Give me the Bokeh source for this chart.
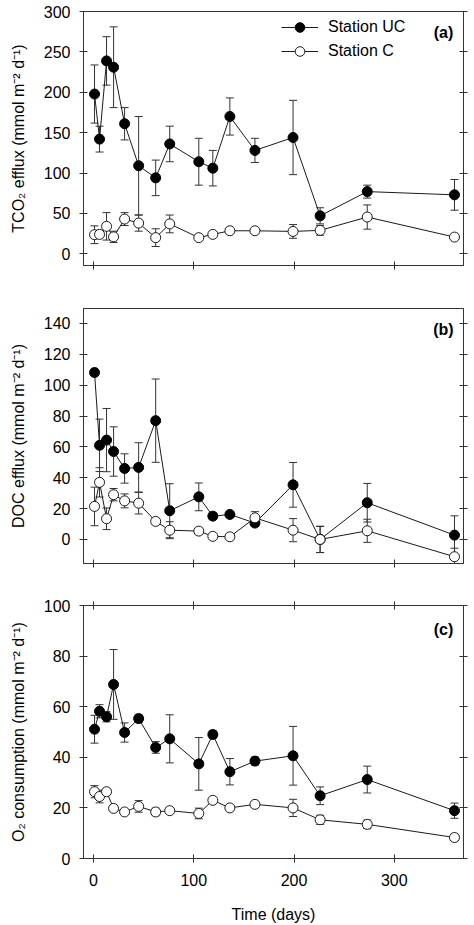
from bokeh.plotting import figure
from bokeh.models import (Range1d, LinearAxis, Whisker, ColumnDataSource, Legend,
                          LegendItem, Label, FixedTicker, TeeHead)
from bokeh.layouts import column
from bokeh.embed import file_html
from bokeh.resources import INLINE

# ---- data ----
days = [1, 6, 13, 20, 31, 45, 62, 76, 105, 119, 136, 161, 199, 226, 273, 360]

tco2_uc = [197.8, 142, 238.8, 231, 161, 109, 94, 136, 114, 106, 170, 128, 144, 47, 77, 73]
tco2_uc_err = [36, 16, 30, 50, 20, 61, 22, 22, 29, 22, 23, 15, 46, 10, 8, 19]
tco2_c = [23.6, 24, 34, 21, 43, 38, 20, 37, 20, 24, 28.5, 28.5, 27.7, 29, 45.5, 20.7]
tco2_c_err = [11, 2, 17, 7, 8, 10, 11, 11, 1, 1, 1, 1, 8.5, 6, 15, 1]

doc_uc = [108.2, 61, 64.4, 57, 46, 46.7, 77, 18.6, 27.6, 15.1, 16.2, 10.6, 35.4, 0, 23.8, 2.8]
doc_uc_err = [2, 17, 20.5, 16, 9.5, 16, 27, 17.5, 9, 2, 2, 2, 14.5, 8.5, 12.5, 12.5]
doc_c = [21.4, 37, 13.4, 29, 25, 23.5, 11.7, 6, 5.4, 2, 1.7, 14, 6, 0, 5.6, -11.2]
doc_c_err = [12.5, 9.5, 7, 4, 4.5, 7, 2, 5.5, 2, 1, 1, 4, 7.5, 8.5, 7.5, 5.5]

o2_uc = [51.1, 58.2, 56, 68.8, 49.8, 55.3, 43.9, 47.3, 37.4, 49, 34.3, 38.5, 40.6, 24.8, 31.2, 18.9]
o2_uc_err = [5.5, 2.6, 2, 13.8, 3.8, 1.5, 2.3, 9.5, 10.4, 1.5, 5.2, 1.6, 11.6, 3.5, 5.3, 3]
o2_c = [26.4, 24.5, 26.4, 19.8, 18.4, 20.6, 18.4, 18.9, 17.8, 23, 20, 21.4, 20, 15.3, 13.5, 8.3]
o2_c_err = [2.4, 2.5, 1, 1, 1, 2.3, 1.5, 1, 2.1, 1, 1, 1, 3.4, 1.8, 1.7, 1]

x_ticks = [0, 100, 200, 300]
tco2_ticks = [0, 50, 100, 150, 200, 250, 300]
doc_ticks = [0, 20, 40, 60, 80, 100, 120, 140]
o2_ticks = [0, 20, 40, 60, 80, 100]

series_names = ["Station UC", "Station C"]

FONT = "Liberation Sans"
AX = "#333333"
LN = "#1a1a1a"


def style_axis(ax, ticks, labels=True, standoff=9):
    ax.ticker = FixedTicker(ticks=ticks)
    ax.axis_line_color = AX
    ax.axis_line_width = 1
    ax.major_tick_line_color = AX
    ax.major_tick_in = 4
    ax.major_tick_out = 4
    ax.minor_tick_line_color = None
    ax.major_label_text_font = FONT
    if labels:
        ax.major_label_text_color = "black"
        ax.major_label_text_font_size = "16px"
        ax.major_label_standoff = standoff
    else:
        ax.major_label_text_color = None
        ax.major_label_text_font_size = "0px"
        ax.major_label_standoff = 0


def add_errs(p, vals, errs):
    src = ColumnDataSource(dict(
        x=days,
        upper=[v + e for v, e in zip(vals, errs)],
        lower=[v - e for v, e in zip(vals, errs)],
    ))
    w = Whisker(source=src, base="x", upper="upper", lower="lower", dimension="height",
                line_color=AX, line_width=1,
                upper_head=TeeHead(size=8, line_color=AX, line_width=1),
                lower_head=TeeHead(size=8, line_color=AX, line_width=1),
                level="underlay")
    p.add_layout(w)


def make_panel(height, bt, bb, yr, yticks, ylabel, uc, uc_err, c, c_err,
               tag, tag_y, show_xlabels, top_axis, legend=False):
    p = figure(width=474, height=height, x_range=Range1d(-10, 369), y_range=Range1d(*yr),
               output_backend="svg", toolbar_location=None,
               min_border_left=83, min_border_right=11, min_border_top=bt, min_border_bottom=bb)
    p.xgrid.visible = False
    p.ygrid.visible = False
    p.outline_line_color = AX
    p.background_fill_color = "white"
    p.border_fill_color = "white"

    style_axis(p.xaxis[0], x_ticks, labels=show_xlabels, standoff=11)
    style_axis(p.yaxis[0], yticks, labels=True, standoff=9)
    p.yaxis.axis_label = ylabel
    p.yaxis.axis_label_text_font = FONT
    p.yaxis.axis_label_text_font_size = "16px"
    p.yaxis.axis_label_text_font_style = "normal"
    p.yaxis.axis_label_text_color = "black"
    p.yaxis.axis_label_standoff = 14
    if show_xlabels:
        p.xaxis.axis_label = "Time (days)"
        p.xaxis.axis_label_text_font = FONT
        p.xaxis.axis_label_text_font_size = "16px"
        p.xaxis.axis_label_text_font_style = "normal"
        p.xaxis.axis_label_text_color = "black"
        p.xaxis.axis_label_standoff = 17

    ra = LinearAxis()
    style_axis(ra, yticks, labels=False)
    p.add_layout(ra, "right")
    if top_axis:
        ta = LinearAxis()
        style_axis(ta, x_ticks, labels=False)
        p.add_layout(ta, "above")

    add_errs(p, uc, uc_err)
    add_errs(p, c, c_err)

    l1 = p.line(days, uc, line_color=LN, line_width=1)
    s1 = p.scatter(days, uc, marker="circle", size=10, fill_color="black", line_color="black")
    l2 = p.line(days, c, line_color=LN, line_width=1)
    s2 = p.scatter(days, c, marker="circle", size=10, fill_color="white", line_color=LN, line_width=1)

    p.add_layout(Label(x=349, y=tag_y, text=tag, text_font=FONT, text_font_size="16px",
                       text_font_style="bold", text_align="center", text_baseline="middle",
                       text_color="black"))

    if legend:
        leg = Legend(items=[LegendItem(label=series_names[0], renderers=[l1, s1]),
                            LegendItem(label=series_names[1], renderers=[l2, s2])],
                     location=(198, 202))
        leg.border_line_color = None
        leg.background_fill_alpha = 0
        leg.padding = 0
        leg.margin = 0
        leg.spacing = -5
        leg.glyph_width = 37
        leg.glyph_height = 24
        leg.label_height = 24
        leg.label_standoff = 10
        leg.label_text_font = FONT
        leg.label_text_font_size = "16px"
        leg.label_text_color = "black"
        p.add_layout(leg)
    return p


pa = make_panel(287, 11, 22, (-14.5, 300), tco2_ticks, "TCO\u2082 efflux (mmol m\u207b\u00b2 d\u207b\u00b9)",
                tco2_uc, tco2_uc_err, tco2_c, tco2_c_err, "(a)", 274, False, False, legend=True)
pb = make_panel(298, 21, 22, (-15.6, 149.7), doc_ticks, "DOC efflux (mmol m\u207b\u00b2 d\u207b\u00b9)",
                doc_uc, doc_uc_err, doc_c, doc_c_err, "(b)", 136.3, False, False)
pc = make_panel(340, 20, 66, (0, 100), o2_ticks, "O\u2082 consumption (mmol m\u207b\u00b2 d\u207b\u00b9)",
                o2_uc, o2_uc_err, o2_c, o2_c_err, "(c)", 90.4, True, True)

layout = column(pa, pb, pc, spacing=0)
open("out.html", "w").write(file_html(layout, INLINE))
